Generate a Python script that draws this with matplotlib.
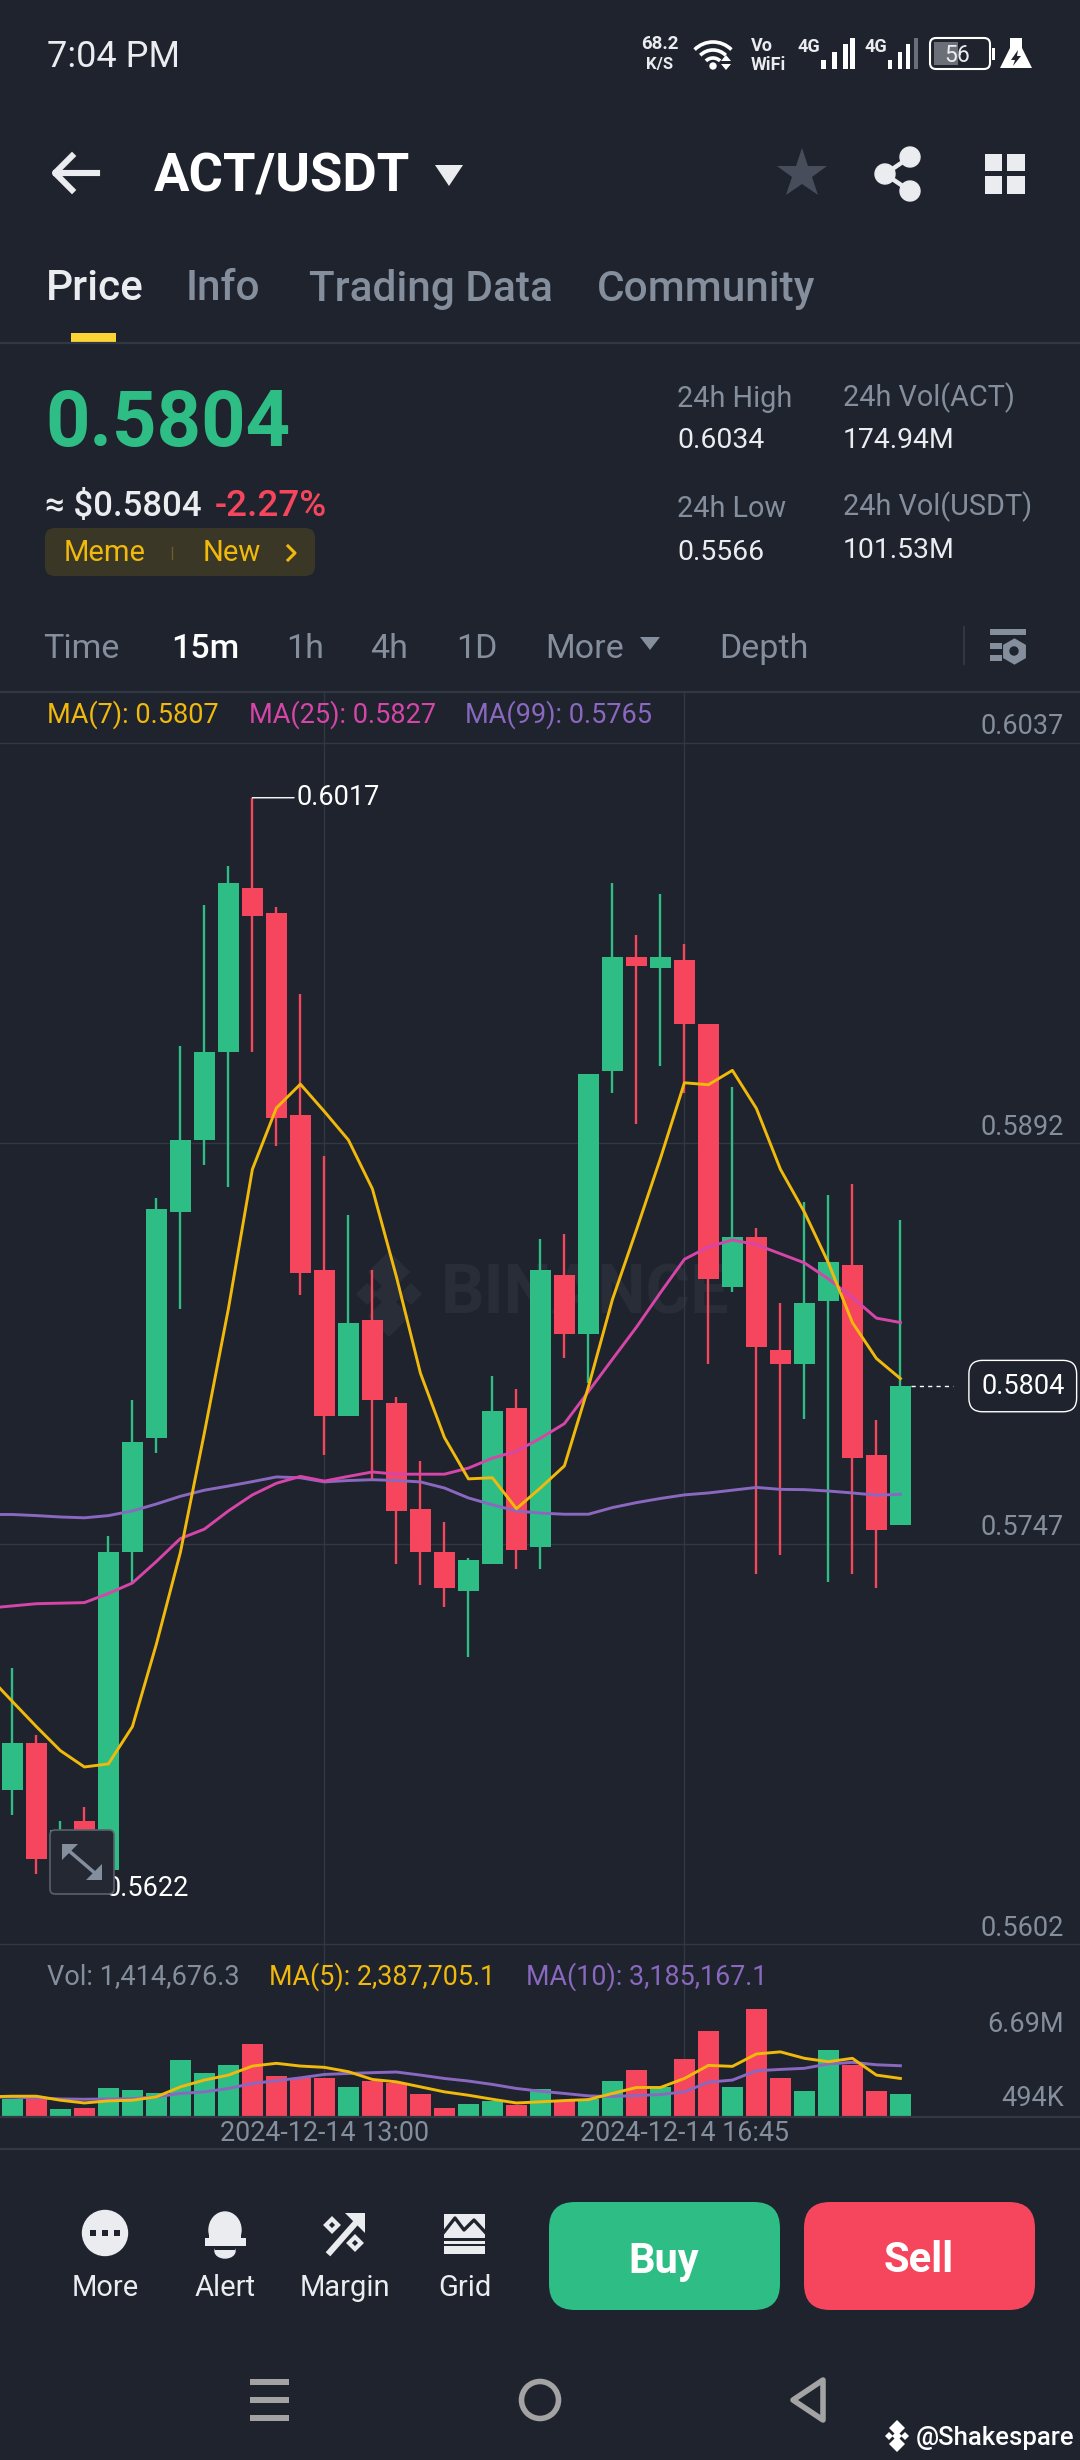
import numpy as np
import matplotlib
matplotlib.use("Agg")
import matplotlib.pyplot as plt
from matplotlib.patches import Arc, Circle, Ellipse, FancyBboxPatch, Polygon, Rectangle

plt.rcParams["font.family"] = ["Roboto", "DejaVu Sans"]

BG = "#1e232d"
GRID = "#323843"
GREEN = "#2ebd85"
RED = "#f6465d"
GREY = "#848e9c"
LIGHT = "#eaecef"
YELLOW = "#f0b90b"
PINK = "#d645a8"
PURPLE = "#8a68c0"

# 15m candles, left to right
opens = [0.56577, 0.56747, 0.56391, 0.56466, 0.56288, 0.57438, 0.57851, 0.58670, 0.58931, 0.59250,
         0.59842, 0.59752, 0.59021, 0.58461, 0.57931, 0.58280, 0.57979, 0.57596, 0.57438, 0.57299,
         0.57397, 0.57959, 0.57458, 0.58441, 0.58228, 0.59180, 0.59592, 0.59552, 0.59581, 0.59351,
         0.58399, 0.58579, 0.58170, 0.58120, 0.58349, 0.58479, 0.57789, 0.57538]
closes = [0.56747, 0.56328, 0.56433, 0.56424, 0.57438, 0.57837, 0.58680, 0.58931, 0.59250, 0.59862,
          0.59742, 0.59012, 0.58449, 0.57931, 0.58270, 0.57990, 0.57588, 0.57438, 0.57309, 0.57409,
          0.57949, 0.57448, 0.58461, 0.58228, 0.59171, 0.59592, 0.59561, 0.59592, 0.59351, 0.58429,
          0.58579, 0.58180, 0.58120, 0.58339, 0.58489, 0.57779, 0.57518, 0.58040]
highs = [0.57018, 0.56777, 0.56466, 0.56516, 0.57497, 0.57989, 0.58721, 0.59271, 0.59782, 0.59923,
         0.60170, 0.59773, 0.59461, 0.58873, 0.58661, 0.58461, 0.57999, 0.57769, 0.57548, 0.57419,
         0.58078, 0.58029, 0.58573, 0.58592, 0.59171, 0.59862, 0.59673, 0.59822, 0.59642, 0.59351,
         0.59122, 0.58611, 0.58339, 0.58708, 0.58730, 0.58770, 0.57917, 0.58640]
lows = [0.56488, 0.56275, 0.56375, 0.56408, 0.56220, 0.57330, 0.57799, 0.58320, 0.58840, 0.58760,
        0.59250, 0.58909, 0.58369, 0.57791, 0.57931, 0.57704, 0.57397, 0.57319, 0.57239, 0.57059,
        0.57397, 0.57379, 0.57379, 0.58140, 0.58050, 0.59100, 0.58990, 0.59200, 0.59100, 0.58120,
        0.58381, 0.57359, 0.57427, 0.57921, 0.57329, 0.57359, 0.57309, 0.57538]

# moving averages carry one extra point left of the first candle
ma7 = [0.56990, 0.56898, 0.56807, 0.56720, 0.56661, 0.56672, 0.56807, 0.57106, 0.57438, 0.57871,
       0.58320, 0.58825, 0.59047, 0.59133, 0.59034, 0.58931, 0.58754, 0.58436, 0.58087, 0.57854,
       0.57704, 0.57708, 0.57596, 0.57671, 0.57751, 0.58037, 0.58353, 0.58605, 0.58864, 0.59138,
       0.59131, 0.59183, 0.59045, 0.58825, 0.58670, 0.58486, 0.58270, 0.58140, 0.58067]
ma25 = [0.57236, 0.57244, 0.57252, 0.57254, 0.57256, 0.57289, 0.57327, 0.57405, 0.57488, 0.57522,
        0.57588, 0.57646, 0.57688, 0.57713, 0.57696, 0.57713, 0.57729, 0.57721, 0.57721, 0.57721,
        0.57743, 0.57779, 0.57804, 0.57851, 0.57904, 0.58020, 0.58137, 0.58253, 0.58378, 0.58499,
        0.58544, 0.58569, 0.58552, 0.58519, 0.58486, 0.58428, 0.58361, 0.58286, 0.58270]
ma99 = [0.57575, 0.57575, 0.57571, 0.57566, 0.57563, 0.57571, 0.57588, 0.57613, 0.57641, 0.57663,
        0.57678, 0.57694, 0.57711, 0.57708, 0.57693, 0.57698, 0.57701, 0.57698, 0.57693, 0.57671,
        0.57635, 0.57610, 0.57588, 0.57580, 0.57576, 0.57576, 0.57600, 0.57618, 0.57633, 0.57646,
        0.57653, 0.57663, 0.57673, 0.57666, 0.57665, 0.57660, 0.57653, 0.57645, 0.57648]

# volume in millions
volumes = [1.10, 1.14, 0.50, 0.54, 1.81, 1.66, 1.50, 3.52, 2.75, 3.20,
           4.51, 2.54, 2.39, 2.41, 1.89, 2.25, 2.08, 1.44, 0.54, 0.81,
           1.00, 0.73, 1.71, 1.00, 1.10, 2.23, 2.89, 1.83, 3.62, 5.35,
           1.89, 6.69, 2.43, 1.60, 4.14, 3.22, 1.60, 1.41]
vol_ma5 = [1.25, 1.29, 1.29, 1.04, 0.87, 1.00, 1.04, 1.25, 1.87, 2.29,
           2.60, 3.16, 3.33, 3.16, 3.08, 2.81, 2.33, 2.18, 1.87, 1.56,
           1.35, 1.10, 0.87, 0.94, 1.02, 1.08, 1.46, 1.83, 1.83, 2.39,
           3.20, 3.14, 3.91, 4.04, 3.64, 3.43, 3.64, 2.60, 2.39]
vol_ma10 = [1.25, 1.23, 1.19, 1.12, 1.10, 1.12, 1.14, 1.25, 1.46, 1.56,
            1.77, 2.08, 2.25, 2.43, 2.64, 2.70, 2.75, 2.79, 2.60, 2.39,
            2.23, 2.02, 1.77, 1.60, 1.46, 1.31, 1.27, 1.33, 1.39, 1.56,
            2.16, 2.29, 2.87, 2.95, 3.02, 3.29, 3.39, 3.24, 3.18]

price_ticks = [0.6037, 0.5892, 0.5747, 0.5602]
vol_tick_labels = ["6.69M", "494K"]
time_idx = [13, 28]
time_labels = ["2024-12-14 13:00", "2024-12-14 16:45"]
high_price = 0.6017
low_price = 0.5622

W, H = 1080, 2460
# y pixel of 0.6037 / 0.5602 gridlines, and of chart top / volume baseline
Y_HI, Y_LO, Y_TOP, Y_BASE = 742.5, 1944.0, 692.0, 2117.0


def pixel_axes(y0, y1):
    a = fig.add_axes([0, 1 - y1 / H, 1, (y1 - y0) / H])
    a.patch.set_visible(False)
    for s in a.spines.values():
        s.set_visible(False)
    return a


fig = plt.figure(figsize=(W / 100, H / 100), dpi=100, facecolor=BG)

back = pixel_axes(0, H)
back.set_zorder(0)
back.set_xlim(0, W)
back.set_ylim(H, 0)
back.axis("off")

ui = pixel_axes(0, H)
ui.set_zorder(5)
ui.set_xlim(0, W)
ui.set_ylim(H, 0)
ui.axis("off")

ax = pixel_axes(Y_TOP, Y_LO)
ax.set_zorder(2)
vax = pixel_axes(Y_LO, Y_BASE)
vax.set_zorder(2)

# --- price panel ---
idx = np.arange(len(opens))
ma_x = np.arange(-1, len(opens))
colors = [GREEN if c >= o else RED for o, c in zip(opens, closes)]
o_arr, c_arr = np.array(opens), np.array(closes)

ax.vlines(idx, lows, highs, colors=colors, lw=1.7, zorder=3)
ax.bar(idx, np.abs(c_arr - o_arr), bottom=np.minimum(o_arr, c_arr), width=0.875, color=colors, zorder=3)
ax.plot(ma_x, ma7, color=YELLOW, lw=2.1, zorder=6)
ax.plot(ma_x, ma25, color=PINK, lw=2.1, zorder=5)
ax.plot(ma_x, ma99, color=PURPLE, lw=2.1, zorder=4)

xlim = (-12.4 / 24, (W - 12.4) / 24)
per_px = (price_ticks[0] - price_ticks[-1]) / (Y_LO - Y_HI)
ax.set_xlim(xlim)
ax.set_ylim(price_ticks[-1], price_ticks[0] + (Y_HI - Y_TOP) * per_px)
ax.set_yticks(price_ticks)
ax.set_xticks(time_idx)
ax.grid(True, color=GRID, lw=1)
ax.set_axisbelow(True)
ax.tick_params(length=0, labelleft=False, labelbottom=False)
for gl in ax.get_ygridlines():
    gl.set_clip_on(False)

for t in price_ticks:
    ax.annotate(f"{t:.4f}", xy=(1, t), xycoords=("axes fraction", "data"), xytext=(-11.5, 11.5),
                textcoords="offset points", ha="right", va="center", fontsize=19.5, color=GREY)

ax.annotate(f"{high_price:.4f}", xy=(10, high_price), xytext=(32, 0), textcoords="offset points",
            va="center", fontsize=19.5, color="white",
            arrowprops=dict(arrowstyle="-", color="white", lw=1, shrinkA=0, shrinkB=0))
ax.annotate(f"{low_price:.4f}", xy=(4, low_price), xytext=(-2, 0), textcoords="offset points",
            va="center", fontsize=19.5, color="white")

ax.hlines(closes[-1], 37.45, 39.2, color="white", lw=1, linestyles=(0, (3, 3)), zorder=7)
ax.annotate(f"{closes[-1]:.4f}", xy=(0.947, closes[-1]), xycoords=("axes fraction", "data"),
            ha="center", va="center", fontsize=19.5, color="white", zorder=8,
            bbox=dict(boxstyle="round,pad=0.45,rounding_size=0.5", fc=BG, ec="white", lw=1))

# --- volume panel ---
vax.bar(idx, volumes, width=0.875, color=colors, zorder=3)
vax.plot(ma_x, vol_ma5, color=YELLOW, lw=2.1, zorder=5)
vax.plot(ma_x, vol_ma10, color=PURPLE, lw=2.1, zorder=4)
vax.set_xlim(xlim)
vax.set_ylim(0, 10.73)
vax.set_yticks([])
vax.set_xticks(time_idx, time_labels)
vax.grid(True, axis="x", color=GRID, lw=1)
vax.set_axisbelow(True)
vax.tick_params(length=0, labelsize=19.4, labelcolor=GREY, pad=2)


def label(x, y, s, size, color=LIGHT, weight="normal", ha="left"):
    # va="center" sits a little high against the screenshot's text
    ui.text(x, y + 3, s, fontsize=size, color=color, fontweight=weight, ha=ha, va="center")


def rbox(x0, y0, x1, y1, r, fc, ec="none", lw=0, target=None, z=2):
    (target or ui).add_patch(FancyBboxPatch((x0, y0), x1 - x0, y1 - y0, boxstyle=f"round,pad=0,rounding_size={r}",
                                            fc=fc, ec=ec, lw=lw, zorder=z))


def rect(x0, y0, x1, y1, color, target=None, z=2):
    (target or ui).add_patch(Rectangle((x0, y0), x1 - x0, y1 - y0, fc=color, ec="none", zorder=z))


def poly(points, color, z=3):
    ui.add_patch(Polygon(points, closed=True, fc=color, ec="none", zorder=z))


def logo(target, x, y, s, color):
    for dx, dy, m in [(0, 0, 0.42), (-s, 0, 0.32), (s, 0, 0.32), (0, -s, 0.62), (0, s, 0.62)]:
        target.plot(x + dx, y + dy, marker="D", ms=s * m * 1.6, color=color, mew=0)


# --- status bar ---
label(47, 54, "7:04 PM", 26)
label(660, 41, "68.2", 13.5, weight="bold", ha="center")
label(660, 62, "K/S", 12, weight="bold", ha="center")
for r in (10, 18, 26):
    ui.add_patch(Arc((713, 68), 2 * r, 2 * r, theta1=225, theta2=315, color="white", lw=2.6))
ui.add_patch(Circle((713, 66), 3, color="white"))
poly([(726, 55), (731, 61), (721, 61)], "white")
poly([(726, 70), (731, 64), (721, 64)], "white")
label(762, 43, "Vo", 13, weight="bold", ha="center")
label(768, 62, "WiFi", 13, weight="bold", ha="center")
label(809, 44, "4G", 13, weight="bold", ha="center")
for bx, top in zip((821, 832, 843, 850), (60, 52, 44, 38)):
    rect(bx, top, bx + 4.5, 69, "white")
label(876, 44, "4G", 13, weight="bold", ha="center")
for bx, top, col in zip((888, 898, 906, 914), (60, 52, 44, 38), ("white", "white", "white", "#6a6f78")):
    rect(bx, top, bx + 4, 69, col)
rbox(930, 38, 990, 69, 6, "none", ec="white", lw=1.5)
rect(934, 42, 958, 65, "#6a6f78")
label(957, 52, "56", 16.5, ha="center")
rect(992, 48, 995, 60, "white")
poly([(1010, 38), (1022, 38), (1022, 48), (1032, 68), (1000, 68), (1010, 48)], "white")
poly([(1018, 50), (1011, 60), (1015, 60), (1013, 66), (1021, 56), (1017, 56)], BG, z=4)

# --- header ---
ui.plot([97, 56], [173, 173], color=LIGHT, lw=4.4)
ui.plot([72, 55, 72], [156, 173, 190], color=LIGHT, lw=4.4)
label(154, 174, "ACT/USDT", 38, color="white", weight="bold")
poly([(435, 165), (463, 165), (449, 186)], LIGHT)
ui.plot(802, 174, marker="*", ms=38, color="#474d5b", mew=0)
ui.plot([910, 885, 910], [157, 174, 191], color=LIGHT, lw=3.2)
for cx, cy in [(910, 157), (885, 174), (910, 191)]:
    ui.add_patch(Circle((cx, cy), 10, color=LIGHT, zorder=3))
for x0, y0, x1, y1 in [(985, 154, 1002, 171), (1007, 154, 1025, 171), (985, 176, 1002, 194), (1007, 176, 1025, 194)]:
    rect(x0, y0, x1, y1, LIGHT)

# --- tabs ---
label(46, 286, "Price", 30.5, weight="medium")
label(186, 286, "Info", 30.5, GREY, weight="medium")
label(309, 286, "Trading Data", 30.5, GREY, weight="medium")
label(597, 286, "Community", 30.5, GREY, weight="medium")
rect(71, 333, 116, 342, "#fcd535")
ui.plot([0, W], [343, 343], color=GRID, lw=1.6)

# --- ticker block ---
label(45, 422, "0.5804", 56, GREEN, weight="bold")
label(45, 503, "≈ $0.5804", 25, weight="medium")
label(215, 503, "-2.27%", 26.5, RED, weight="medium")
rbox(45, 528, 315, 576, 10, "#3b3727")
label(64, 550, "Meme", 21, YELLOW)
ui.plot([172, 172], [547, 559], color="#6b5d22", lw=1)
label(203, 550, "New", 21, YELLOW)
ui.plot([288, 295, 288], [546, 553, 560], color=YELLOW, lw=2.2)
for x, y, s in [(677, 396, "24h High"), (677, 506, "24h Low"), (843, 395, "24h Vol(ACT)"), (843, 504, "24h Vol(USDT)")]:
    label(x, y, s, 20.8, GREY)
for x, y, s in [(677, 438, "0.6034"), (677, 549, "0.5566"), (843, 437, "174.94M"), (843, 547, "101.53M")]:
    label(x, y, s, 20.4)

# --- interval row ---
for x, s in [(43, "Time"), (286, "1h"), (370, "4h"), (456, "1D"), (545, "More"), (719, "Depth")]:
    label(x, 646, s, 24.5, GREY)
label(171, 646, "15m", 24.5, "white", weight="medium")
poly([(640, 637), (660, 637), (650, 650)], GREY)
ui.plot([964, 964], [627, 664], color=GRID, lw=1.4)
rect(990, 629, 1026, 635, GREY)
rect(990, 643, 1002, 649, GREY)
rect(990, 655, 1002, 661, GREY)
ui.plot(1014, 651, marker="h", ms=19, color=GREY, mew=0)
ui.add_patch(Circle((1014, 651), 4, color=BG, zorder=4))
ui.plot([0, W], [Y_TOP, Y_TOP], color=GRID, lw=1.6)

# --- chart legends ---
label(47, 712, "MA(7): 0.5807", 19.5, YELLOW)
label(249, 712, "MA(25): 0.5827", 19.5, PINK)
label(465, 712, "MA(99): 0.5765", 19.5, PURPLE)
label(47, 1974, "Vol: 1,414,676.3", 19.5, GREY)
label(269, 1974, "MA(5): 2,387,705.1", 19.4, YELLOW)
label(526, 1974, "MA(10): 3,185,167.1", 19.4, PURPLE)
label(1064, 2022, vol_tick_labels[0], 19.5, GREY, ha="right")
label(1064, 2096, vol_tick_labels[1], 19.5, GREY, ha="right")
ui.plot([0, W], [Y_BASE, Y_BASE], color=GRID, lw=1.6)
ui.plot([0, W], [2149, 2149], color=GRID, lw=1.6)

# watermark sits behind the candles
back.text(441, 1295, "BINANCE", fontsize=49, fontweight="bold", color="#282d38", va="center")
logo(back, 389, 1294, 22, "#282d38")

# expand button over the chart
rbox(50, 1830, 114, 1894, 5, "#232833", ec="#5a606c", lw=1.2)
poly([(62, 1844), (78, 1844), (62, 1860)], GREY)
poly([(102, 1880), (86, 1880), (102, 1864)], GREY)
ui.plot([68, 96], [1850, 1874], color=GREY, lw=2.5)

# --- bottom toolbar ---
for x, s in [(105, "More"), (225, "Alert"), (345, "Margin"), (465, "Grid")]:
    label(x, 2285, s, 21, ha="center")
ui.add_patch(Circle((105, 2233), 22.5, color=LIGHT))
for dx in (-12, 0, 12):
    rect(105 + dx - 3, 2230, 105 + dx + 3, 2236, BG, z=3)
ui.add_patch(Ellipse((225, 2230), 32, 36, color=LIGHT))
poly([(209, 2230), (241, 2230), (241, 2238), (246, 2245), (205, 2245), (209, 2238)], LIGHT)
ui.add_patch(Ellipse((225, 2251), 20, 14, color=LIGHT))
rect(215, 2242, 235, 2250, BG)
rect(205, 2238, 246, 2246, LIGHT, z=3)
ui.plot([330, 360], [2252, 2218], color=LIGHT, lw=4.4)
poly([(345, 2213), (365, 2213), (365, 2233)], LIGHT)
ui.plot([332, 355], [2225, 2243], ls="none", marker="D", ms=6.5, mfc=BG, mec=LIGHT, mew=3, zorder=4)
rect(444, 2214, 485, 2238, LIGHT)
rect(444, 2241, 485, 2243.5, LIGHT)
rect(444, 2246, 485, 2254, LIGHT)
ui.plot([444, 455, 464, 474, 485], [2232, 2218, 2230, 2220, 2232], color=BG, lw=2.4, zorder=3)
rbox(549, 2202, 780, 2310, 26, GREEN)
rbox(804, 2202, 1035, 2310, 26, RED)
label(664, 2258, "Buy", 30, "white", weight="bold", ha="center")
label(919, 2258, "Sell", 30, "white", weight="bold", ha="center")

# --- nav bar and watermark ---
for y in (2382, 2400, 2418):
    rect(250, y - 3, 289, y + 3, "#a3a3a3")
ui.add_patch(Circle((540, 2400), 18.5, fc="none", ec="#a3a3a3", lw=4))
ui.add_patch(Polygon([(823, 2380), (793, 2400), (823, 2420)], closed=True, fc="none", ec="#a3a3a3", lw=4, joinstyle="round"))
label(916, 2435, "@Shakespare", 18.5, "white", weight="medium")
logo(ui, 897, 2436, 8, "white")

fig.savefig("out.png", dpi=100, facecolor=BG)
